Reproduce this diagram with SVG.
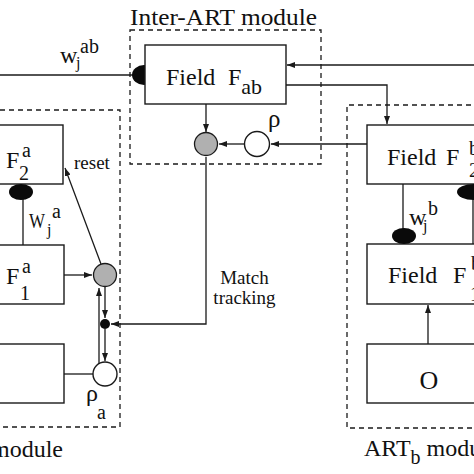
<svg xmlns="http://www.w3.org/2000/svg" width="474" height="474" viewBox="0 0 474 474">
<defs>
<marker id="ah" viewBox="0 0 8 6" refX="8" refY="3" markerWidth="8" markerHeight="6" markerUnits="userSpaceOnUse" orient="auto">
<path d="M0,0 L8,3 L0,6 Z" fill="#1a1a1a"/>
</marker>
<style>
.box{fill:#fff;stroke:#1a1a1a;stroke-width:1.4}
.dash{fill:none;stroke:#1a1a1a;stroke-width:1.3;stroke-dasharray:5,4}
.ln{fill:none;stroke:#1a1a1a;stroke-width:1.3}
.arr{fill:none;stroke:#1a1a1a;stroke-width:1.3;marker-end:url(#ah)}
.blob{fill:#0a0a0a}
.gray{fill:#b0b0b0;stroke:#1a1a1a;stroke-width:1.3}
.circ{fill:#fff;stroke:#1a1a1a;stroke-width:1.4}
text{font-family:"Liberation Serif","Times New Roman",serif;fill:#111}
.big{font-size:24px}
.sub{font-size:20px}
.lbl{font-size:19px}
</style>
</defs>
<rect width="474" height="474" fill="#fff"/>

<g id="modules">
<rect class="dash" x="130" y="30" width="191" height="134"/>
<path class="dash" d="M0,110 H120 V427 H0"/>
<path class="dash" d="M480,105 H347 V428 H480"/>
<text x="130" y="25" style="font-size:23px" textLength="187" lengthAdjust="spacingAndGlyphs">Inter-ART module</text>
<text x="-9" y="457" class="big">module</text>
<text x="364" y="456" class="big">ART<tspan font-size="20" dy="8">b</tspan><tspan dy="-8"> module</tspan></text>
</g>

<g id="connectors">
<line class="ln" x1="0" y1="75" x2="134" y2="75"/>
<line class="arr" x1="474" y1="65" x2="287" y2="65"/>
<path class="arr" d="M286,85 H387 V124"/>
<line class="arr" x1="206" y1="104" x2="206" y2="132"/>
<line class="arr" x1="244" y1="144" x2="219" y2="144"/>
<line class="arr" x1="367" y1="144" x2="271" y2="144"/>
<path class="arr" d="M206,157 V324 H111"/>
<line class="arr" x1="64" y1="275" x2="92" y2="275"/>
<line class="arr" x1="101" y1="264" x2="65" y2="168"/>
<line class="arr" x1="105" y1="287" x2="105" y2="318"/>
<line class="arr" x1="105" y1="329" x2="105" y2="361"/>
<line class="arr" x1="99" y1="364" x2="99" y2="288"/>
<line class="ln" x1="64" y1="374" x2="93" y2="374"/>
<line class="ln" x1="23" y1="192" x2="23" y2="245"/>
<line class="ln" x1="403" y1="184" x2="403" y2="230"/>
<line class="ln" x1="473" y1="196" x2="473" y2="244"/>
<line class="arr" x1="428" y1="344" x2="428" y2="305"/>
</g>

<g id="label-wjab">
<text x="60" y="63" class="big">w</text>
<text x="76" y="68" style="font-size:16px">j</text>
<text x="80" y="53" class="sub">ab</text>
</g>

<g id="blob-ab"><ellipse class="blob" cx="144" cy="75" rx="12" ry="10"/></g>

<g id="field-fab">
<rect class="box" x="145" y="45" width="141" height="59"/>
<text x="166" y="85" class="big">Field</text>
<text x="228" y="85" class="big">F<tspan font-size="22" dy="9">ab</tspan></text>
</g>

<g id="gray-ab"><circle class="gray" cx="206" cy="144" r="11.5"/></g>
<g id="rho"><circle class="circ" cx="257" cy="144" r="12.5"/>
<text x="268" y="127" style="font-size:25px">ρ</text></g>

<g id="f2a">
<rect class="box" x="-10" y="125" width="73" height="59"/>
<text x="6" y="168" class="big">F</text>
<text x="22" y="157" class="sub">a</text>
<text x="19" y="180" class="sub">2</text>
</g>
<g id="blob-a"><ellipse class="blob" cx="21" cy="192" rx="12" ry="8"/></g>
<g id="label-wja">
<text x="29" y="228" style="font-size:21px" textLength="16" lengthAdjust="spacingAndGlyphs">W</text>
<text x="47" y="235" style="font-size:16px">j</text>
<text x="52" y="218" class="sub">a</text>
</g>

<g id="f1a">
<rect class="box" x="-10" y="245" width="74" height="59"/>
<text x="6" y="284" class="big">F</text>
<text x="22" y="273" class="sub">a</text>
<text x="20" y="300" class="sub">1</text>
</g>

<g id="reset-label"><text x="74" y="169" class="lbl">reset</text></g>

<g id="gray-a"><circle class="gray" cx="105" cy="275" r="11.5"/></g>
<g id="dot"><circle cx="105" cy="324" r="5" fill="#0a0a0a"/></g>
<g id="rho-a"><circle class="circ" cx="105" cy="374" r="12"/>
<text x="86" y="401" style="font-size:24px">ρ</text>
<text x="97" y="419" class="sub">a</text></g>

<g id="box-a3"><rect class="box" x="-10" y="344" width="74" height="59"/></g>

<g id="match-label">
<text x="244.5" y="284" class="lbl" text-anchor="middle">Match</text>
<text x="244.5" y="304" class="lbl" text-anchor="middle">tracking</text>
</g>

<g id="f2b">
<rect class="box" x="367" y="125" width="120" height="59"/>
<text x="387" y="165" class="big">Field</text>
<text x="446" y="165" class="big">F</text>
<text x="469" y="155" class="sub">b</text>
<text x="469" y="177" class="sub">2</text>
</g>
<g id="blob-b2"><ellipse class="blob" cx="474" cy="192" rx="17" ry="8"/></g>
<g id="label-wjb">
<text x="409" y="225" class="big">w</text>
<text x="423" y="231" style="font-size:16px">j</text>
<text x="428" y="215" class="sub">b</text>
</g>

<g id="f1b">
<rect class="box" x="367" y="244" width="120" height="60"/>
<text x="388" y="283" class="big">Field</text>
<text x="453" y="283" class="big">F</text>
<text x="471" y="270" class="sub">b</text>
<text x="470" y="301" class="sub">1</text>
</g>
<g id="blob-b"><ellipse class="blob" cx="404" cy="236" rx="12" ry="8"/></g>

<g id="o-box">
<rect class="box" x="367" y="344" width="120" height="59"/>
<text x="429" y="389" text-anchor="middle" style="font-size:26px">O</text>
</g>
</svg>
